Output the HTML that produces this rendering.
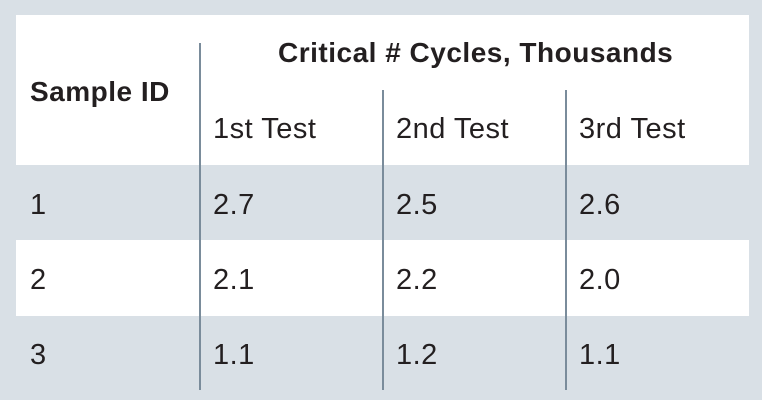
<!DOCTYPE html>
<html><head><style>
body{margin:0;width:762px;height:400px;background:#d9e0e6;position:relative;overflow:hidden;font-family:"Liberation Sans",sans-serif;color:#231f20}
.w{position:absolute;background:#fff;left:16px;width:733px}
.l{position:absolute;width:2px;background:#7a8c9b}
.t{position:absolute;font-size:29px;line-height:29px;white-space:nowrap;letter-spacing:0.5px}
.b{font-weight:bold;font-size:28px;letter-spacing:0.5px}
</style></head><body>
<div class="w" style="top:15px;height:150px"></div>
<div class="w" style="top:240px;height:76px"></div>
<div class="l" style="left:199px;top:43px;height:347px"></div>
<div class="l" style="left:382px;top:90px;height:300px"></div>
<div class="l" style="left:565px;top:90px;height:300px"></div>
<div class="t b" style="left:30px;top:77px">Sample ID</div>
<div class="t b" style="left:278px;top:38px">Critical # Cycles, Thousands</div>
<div class="t" style="left:213px;top:115px">1st Test</div>
<div class="t" style="left:396px;top:115px">2nd Test</div>
<div class="t" style="left:579px;top:115px">3rd Test</div>
<div class="t" style="left:30px;top:191px">1</div>
<div class="t" style="left:213px;top:191px">2.7</div>
<div class="t" style="left:396px;top:191px">2.5</div>
<div class="t" style="left:579px;top:191px">2.6</div>
<div class="t" style="left:30px;top:266px">2</div>
<div class="t" style="left:213px;top:266px">2.1</div>
<div class="t" style="left:396px;top:266px">2.2</div>
<div class="t" style="left:579px;top:266px">2.0</div>
<div class="t" style="left:30px;top:341px">3</div>
<div class="t" style="left:213px;top:341px">1.1</div>
<div class="t" style="left:396px;top:341px">1.2</div>
<div class="t" style="left:579px;top:341px">1.1</div>
</body></html>
